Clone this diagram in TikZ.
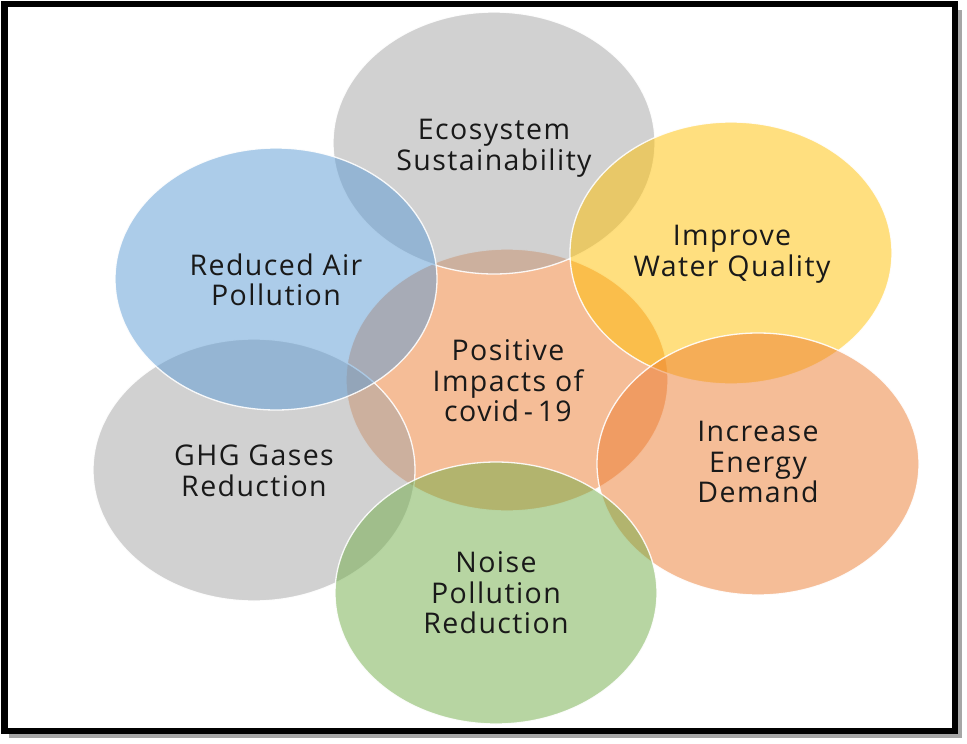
\documentclass[tikz,border=0pt]{standalone}
\usepackage{fontspec}
\setmainfont{Open Sans}[LetterSpace=5]
\usetikzlibrary{shapes.geometric}
\definecolor{ogray}{HTML}{A5A5A5}
\definecolor{oblue}{HTML}{5B9BD5}
\definecolor{oyellow}{HTML}{FFC000}
\definecolor{oorange}{HTML}{ED7D31}
\definecolor{ogreen}{HTML}{70AD47}
\tikzset{
  venn/.style={ellipse, minimum width=322pt, minimum height=262pt, draw=white, line width=1.3pt, fill opacity=0.5, draw opacity=0.9, text opacity=1, inner sep=0pt},
  lbl/.style={align=center, font=\fontsize{28.5}{30.5}\selectfont, text=black!90},
  frame/.style={draw=black, line width=6.5pt},
  shadow/.style={draw=black!35, line width=4pt}
}
\begin{document}
\begin{tikzpicture}[x=1pt,y=-1pt]
\useasboundingbox (0,0) rectangle (967,744);
\fill[white] (0,0) rectangle (967,744);
% circles
\node[venn, fill=oorange] (c) at (507,380) {};
\node[venn, fill=ogray] (eco) at (494,143) {};
\node[venn, fill=oyellow] (wat) at (731,253) {};
\node[venn, fill=oorange] (ene) at (758,464) {};
\node[venn, fill=ogray] (ghg) at (254,470) {};
\node[venn, fill=ogreen] (noi) at (496,593) {};
\node[venn, fill=oblue] (air) at (276,279) {};
% labels
\node[lbl] (tc) at (508,381) {Positive\\Impacts of\\covid\,-\,19};
\node[lbl] (teco) at (494,148) {Ecosystem\\Sustainability};
\node[lbl] (twat) at (732,254) {Improve\\Water Quality};
\node[lbl] (tene) at (758,462) {Increase\\Energy\\Demand};
\node[lbl] (tghg) at (254,471) {GHG Gases\\Reduction};
\node[lbl] (tnoi) at (496,593) {Noise\\Pollution\\Reduction};
\node[lbl] (tair) at (276,280) {Reduced Air\\Pollution};
% frame
\draw[shadow] (960,10) -- (960,736) -- (9,736);
\draw[frame] (4.5,4) rectangle (955,731);
\end{tikzpicture}
\end{document}
